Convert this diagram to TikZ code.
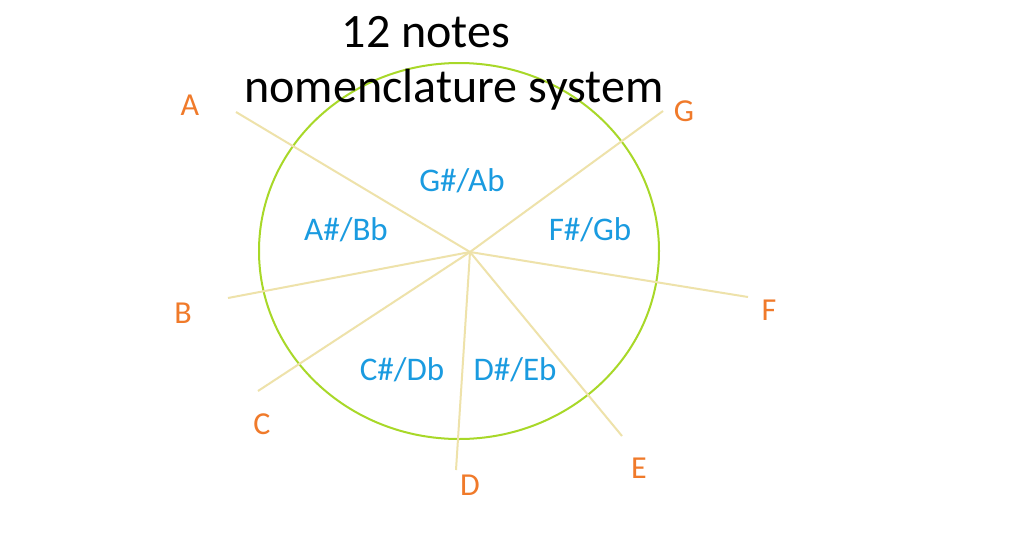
\documentclass[tikz,border=0pt]{standalone}
\usepackage{fontspec}
\setmainfont{Carlito}
\definecolor{ring}{HTML}{A8D828}
\definecolor{spoke}{HTML}{EEE2AA}
\definecolor{note}{HTML}{F07A2A}
\definecolor{semi}{HTML}{1A9BE0}
\begin{document}
\begin{tikzpicture}[x=1pt,y=-1pt,
  notelbl/.style={text=note,font=\fontsize{32}{36}\selectfont},
  semilbl/.style={text=semi,font=\fontsize{33}{38}\selectfont},
  spokeln/.style={draw=spoke,line width=2pt}]
\useasboundingbox (0,0) rectangle (1033,542);
\fill[white] (0,0) rectangle (1033,542);
\draw[ring,line width=2pt] (459,251) ellipse [x radius=200,y radius=188];
\coordinate (o) at (470,252);
\foreach \n/\p in {a/{236,112},g/{663,111},f/{748,297},e/{622,436},d/{456,470},c/{258,391},b/{228,298}}
  {\coordinate (\n) at (\p); \draw[spokeln] (o) -- (\n);}
\node[notelbl] (la) at (190,105) {A};
\node[notelbl] (lg) at (684,111) {G};
\node[notelbl] (lf) at (769,310) {F};
\node[notelbl] (le) at (639,468) {E};
\node[notelbl] (ld) at (470,485) {D};
\node[notelbl] (lc) at (262,424) {C};
\node[notelbl] (lb) at (183,313) {B};
\node[semilbl] (s1) at (462,181) {G\#/Ab};
\node[semilbl] (s2) at (346,230) {A\#/Bb};
\node[semilbl] (s3) at (590,230) {F\#/Gb};
\node[semilbl] (s4) at (402,370) {C\#/Db};
\node[semilbl] (s5) at (515,370) {D\#/Eb};
\node[font=\fontsize{48}{54}\selectfont] (t1) at (426,32) {12 notes};
\node[font=\fontsize{48}{54}\selectfont] (t2) at (454,90) {nomenclature system};
\end{tikzpicture}
\end{document}
